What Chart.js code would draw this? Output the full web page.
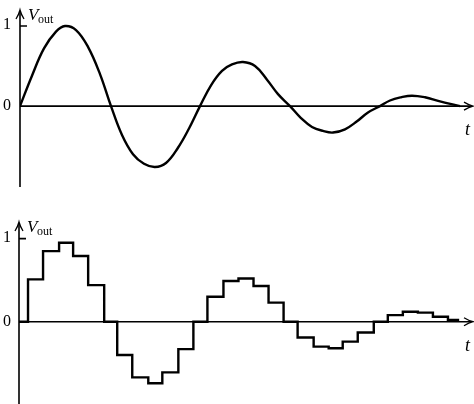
<!DOCTYPE html>
<html>
<head>
<meta charset="utf-8">
<script src="https://cdn.jsdelivr.net/npm/chart.js@4"></script>
<style>
  body { margin: 0; background: #fff; }
  .box { position: absolute; left: 0; width: 474px; }
</style>
</head>
<body>
<div class="box" style="top:0;height:200px"><canvas id="smooth"></canvas></div>
<div class="box" style="top:200px;height:204px"><canvas id="steps"></canvas></div>
<script>
// top panel: continuous output (t in px-ish units from the y axis)
const smoothT = [0,12,24,36,45,56,68,80,91,102,113,124,135,146,158,169,180,191,202,212,223,235,247,258,270,281,292,303,313,325,337,348,360,370,381,392,405,420,440];
const smoothV = [0,0.38,0.72,0.93,1.0,0.95,0.74,0.40,0,-0.36,-0.60,-0.72,-0.76,-0.71,-0.52,-0.28,0,0.26,0.44,0.52,0.55,0.50,0.33,0.15,0,-0.15,-0.26,-0.31,-0.33,-0.29,-0.19,-0.08,0,0.07,0.11,0.13,0.11,0.06,0];

// bottom panel: sample-and-hold steps (value held from t until next t)
const stepT = [0,9,24,40,54,69,85,98,113,129,143,159,174,188,204,219,234,249,264,278,294,309,323,338,354,368,383,398,413,428,438];
const stepV = [0,0.51,0.85,0.95,0.79,0.44,0,-0.40,-0.67,-0.74,-0.61,-0.33,0,0.30,0.49,0.52,0.43,0.23,0,-0.19,-0.30,-0.32,-0.24,-0.13,0,0.08,0.12,0.11,0.06,0.02,0];

const serif = '"Liberation Serif", "DejaVu Serif", serif';

// axes with arrows + labels, drawn from the scales
const axesPlugin = {
  id: 'axes',
  afterDatasetsDraw(chart, args, opts) {
    const ctx = chart.ctx, x = chart.scales.x, y = chart.scales.y;
    const x0 = x.getPixelForValue(0), y0 = y.getPixelForValue(0), y1 = y.getPixelForValue(1);
    const top = chart.chartArea.top, bot = chart.chartArea.bottom, right = chart.chartArea.right;
    ctx.save();
    ctx.strokeStyle = '#000'; ctx.fillStyle = '#000'; ctx.lineWidth = 1.6;
    ctx.beginPath();
    ctx.moveTo(x0, bot); ctx.lineTo(x0, top + 2);
    ctx.moveTo(x0, y0); ctx.lineTo(right - 2, y0);
    ctx.moveTo(x0, y1); ctx.lineTo(x0 + 7, y1);
    ctx.stroke();
    // arrow heads
    ctx.lineWidth = 1.3;
    ctx.beginPath();
    ctx.moveTo(x0 - 4, top + 9); ctx.quadraticCurveTo(x0 - 1, top + 4, x0, top);
    ctx.quadraticCurveTo(x0 + 1, top + 4, x0 + 4, top + 9);
    ctx.moveTo(right - 9, y0 - 4); ctx.quadraticCurveTo(right - 4, y0 - 1, right, y0);
    ctx.quadraticCurveTo(right - 4, y0 + 1, right - 9, y0 + 4);
    ctx.stroke();
    ctx.font = '16px ' + serif;
    ctx.textBaseline = 'middle'; ctx.textAlign = 'left';
    ctx.fillText('1', 3, y1 - 1);
    ctx.fillText('0', 3, y0);
    ctx.font = 'italic 17px ' + serif;
    ctx.textBaseline = 'alphabetic';
    ctx.fillText('V', x0 + 8, top + 10);
    ctx.font = '12px ' + serif;
    ctx.fillText('out', x0 + 18, top + 13);
    ctx.font = 'italic 18px ' + serif;
    ctx.fillText('t', right - 8, y0 + 29);
    ctx.restore();
  }
};

function panel(id, t, v, stepped, yMin, yMax, pad) {
  return new Chart(document.getElementById(id), {
    type: 'line',
    data: {
      datasets: [{
        data: t.map((tt, i) => ({ x: tt, y: v[i] })),
        borderColor: '#000',
        borderWidth: 2.4,
        pointRadius: 0,
        tension: stepped ? 0 : 0.4,
        stepped: stepped ? 'before' : false
      }]
    },
    options: {
      responsive: true,
      maintainAspectRatio: false,
      animation: false,
      layout: { padding: pad },
      plugins: { legend: { display: false }, tooltip: { enabled: false } },
      scales: {
        x: { type: 'linear', min: 0, max: 453, display: false },
        y: { min: yMin, max: yMax, display: false }
      }
    },
    plugins: [axesPlugin]
  });
}

panel('smooth', smoothT, smoothV, false, -1.01, 1.2, { top: 10, bottom: 13, left: 20, right: 1 });
panel('steps', stepT, stepV, true, -0.99, 1.2, { top: 22, bottom: 0, left: 19, right: 1 });
</script>
</body>
</html>
